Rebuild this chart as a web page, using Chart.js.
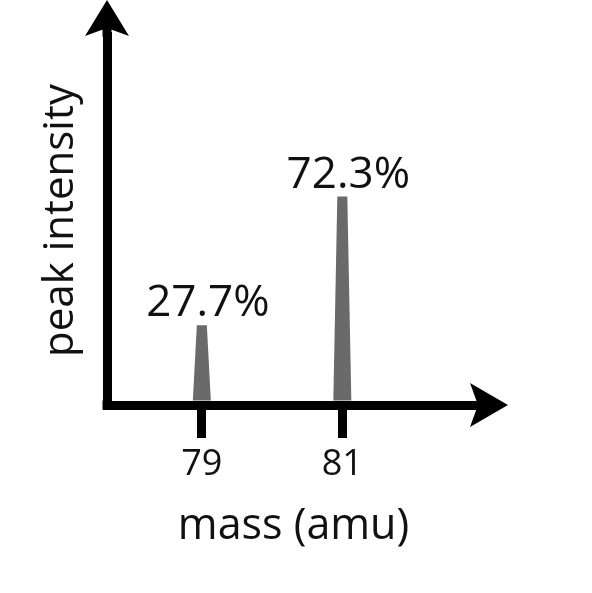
<!DOCTYPE html>
<html>
<head>
<meta charset="utf-8">
<script src="https://cdn.jsdelivr.net/npm/chart.js@4.4.1/dist/chart.umd.min.js"></script>
<style>
  html, body { margin: 0; padding: 0; background: #fff; }
  canvas { display: block; }
</style>
</head>
<body>
<canvas id="chart" width="592" height="593"></canvas>
<script>
const masses = [79, 81];
const abundance = [27.7, 72.3];
const peakLabels = ['27.7%', '72.3%'];
const massTicks = [79, 81];

const FONT = "'Open Sans', 'Noto Sans', sans-serif";
const INK = '#111';
const PEAK = '#6a6a6a';
const AXIS_W = 9;

// tapered peaks, their labels and the two arrow heads
const spectrum = {
    id: 'spectrum',
    afterDatasetsDraw(chart) {
        const ctx = chart.ctx;
        const meta = chart.getDatasetMeta(0);
        ctx.save();
        meta.data.forEach((bar, i) => {
            const base = bar.base - AXIS_W / 2;
            ctx.fillStyle = PEAK;
            ctx.beginPath();
            ctx.moveTo(bar.x - 5, bar.y);
            ctx.lineTo(bar.x + 5, bar.y);
            ctx.lineTo(bar.x + 9, base);
            ctx.lineTo(bar.x - 9, base);
            ctx.closePath();
            ctx.fill();

            ctx.fillStyle = INK;
            ctx.font = '44px ' + FONT;
            ctx.textAlign = 'center';
            ctx.textBaseline = 'alphabetic';
            ctx.fillText(peakLabels[i], bar.x + 6, bar.y - 9);
        });
        ctx.restore();
    },
    afterDraw(chart) {
        const { ctx, chartArea: a } = chart;
        const hw = AXIS_W / 2;
        ctx.save();
        ctx.fillStyle = '#000';

        // square off the corner where the two borders meet
        ctx.fillRect(a.left - hw, a.bottom - hw, AXIS_W, AXIS_W);

        // y arrow
        ctx.fillRect(a.left - hw, a.top - 12, AXIS_W, 13);
        ctx.beginPath();
        ctx.moveTo(a.left, a.top - 36);
        ctx.lineTo(a.left + 22, a.top);
        ctx.lineTo(a.left, a.top - 8);
        ctx.lineTo(a.left - 22, a.top);
        ctx.closePath();
        ctx.fill();

        // x arrow
        ctx.beginPath();
        ctx.moveTo(a.right + 28, a.bottom);
        ctx.lineTo(a.right - 10, a.bottom + 22);
        ctx.lineTo(a.right - 2, a.bottom);
        ctx.lineTo(a.right - 10, a.bottom - 22);
        ctx.closePath();
        ctx.fill();
        ctx.restore();
    }
};

new Chart(document.getElementById('chart'), {
    type: 'bar',
    data: {
        datasets: [{
            data: masses.map((m, i) => ({ x: m, y: abundance[i] })),
            backgroundColor: 'rgba(0,0,0,0)',
            barThickness: 18
        }]
    },
    options: {
        responsive: false,
        animation: false,
        layout: {
            padding: { top: 36, right: 112, left: 0, bottom: 0 }
        },
        plugins: {
            legend: { display: false },
            tooltip: { enabled: false }
        },
        scales: {
            x: {
                type: 'linear',
                min: 77.65,
                max: 82.96,
                offset: false,
                afterFit: (scale) => { scale.height = 188; },
                afterBuildTicks: (scale) => {
                    scale.ticks = massTicks.map(v => ({ value: v }));
                },
                border: { display: true, color: '#000', width: AXIS_W },
                grid: {
                    offset: false,
                    drawOnChartArea: false,
                    drawTicks: true,
                    tickLength: 33,
                    lineWidth: AXIS_W,
                    color: '#000'
                },
                ticks: {
                    padding: 5,
                    color: INK,
                    font: { family: FONT, size: 36 },
                    maxRotation: 0
                },
                title: {
                    display: true,
                    text: 'mass (amu)',
                    color: INK,
                    font: { family: FONT, size: 43 },
                    padding: { top: 0, bottom: 40 }
                }
            },
            y: {
                min: 0,
                max: 128,
                afterFit: (scale) => { scale.width = 107; },
                border: { display: true, color: '#000', width: AXIS_W },
                grid: { display: false },
                ticks: { display: false },
                title: {
                    display: true,
                    text: 'peak intensity',
                    color: INK,
                    font: { family: FONT, size: 42 },
                    padding: { top: 36, bottom: 0 }
                }
            }
        }
    },
    plugins: [spectrum]
});
</script>
</body>
</html>
